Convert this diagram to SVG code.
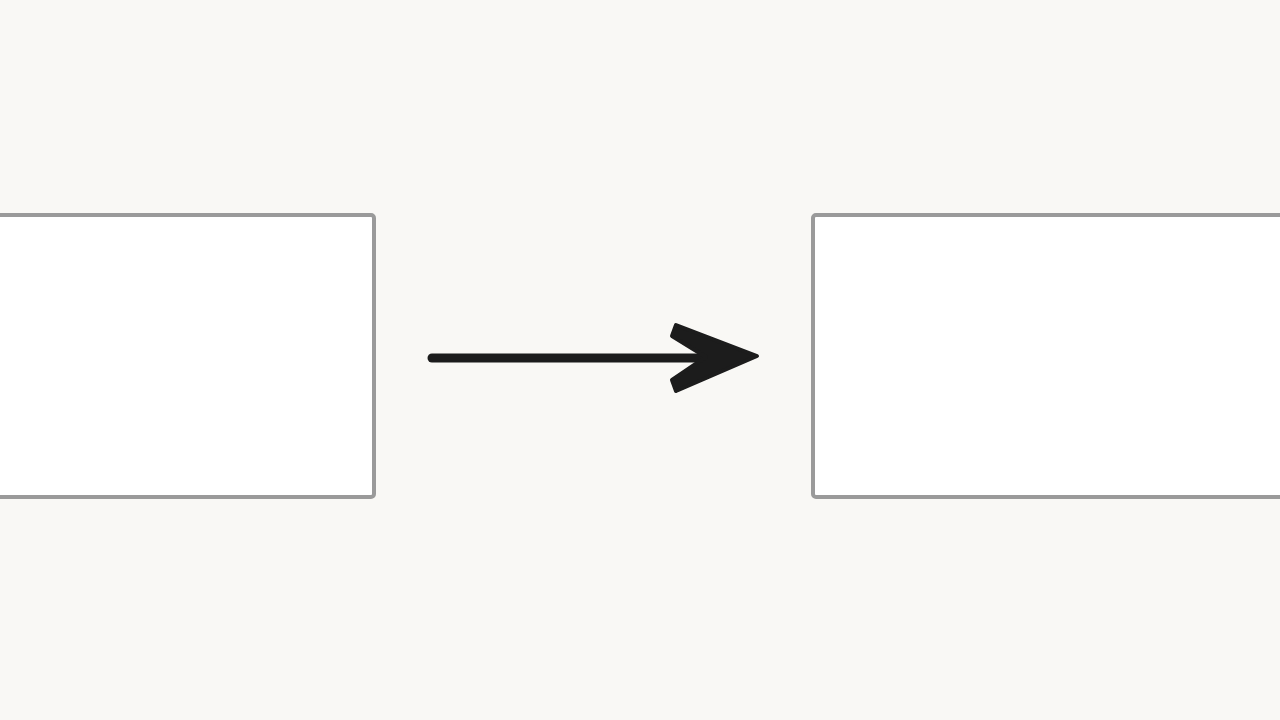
<svg xmlns="http://www.w3.org/2000/svg" width="1280" height="720" viewBox="0 0 1280 720">
<style>
.box{fill:#ffffff;stroke:#9a9a9a;stroke-width:4}
.conn{stroke:#1c1c1c;stroke-width:9;stroke-linecap:round;fill:none}
.head{fill:#1c1c1c;stroke:#1c1c1c;stroke-width:4;stroke-linejoin:round}
</style>
<rect width="1280" height="720" fill="#f9f8f5"/>
<g id="node-left"><rect class="box" x="-20" y="215" width="394" height="282" rx="3"/></g>
<g id="node-right"><rect class="box" x="813" y="215" width="490" height="282" rx="3"/></g>
<g id="connectors">
<line class="conn" x1="432" y1="358" x2="712" y2="358"/>
<polygon class="head" points="757,356 676,325 672,336 706,357 672,380 676,391"/>
</g>
</svg>
